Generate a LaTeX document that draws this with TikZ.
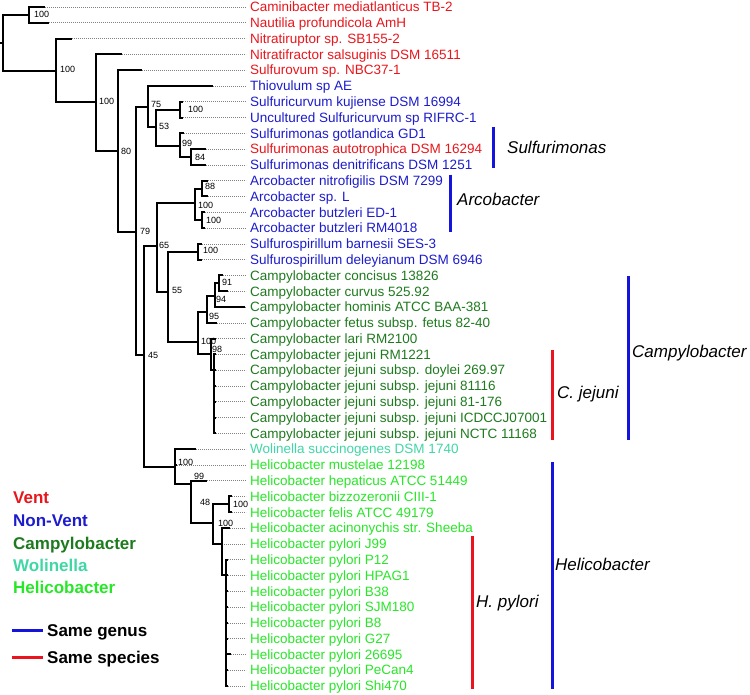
\documentclass[tikz,border=0pt]{standalone}
\usepackage{fontspec}
\setmainfont{Liberation Sans}
\definecolor{vent}{RGB}{232,22,28}
\definecolor{nonvent}{RGB}{28,28,204}
\definecolor{campy}{RGB}{30,122,30}
\definecolor{woli}{RGB}{64,214,166}
\definecolor{heli}{RGB}{40,230,40}
\definecolor{barblue}{RGB}{20,20,220}
\definecolor{barred}{RGB}{235,20,30}
\begin{document}
\begin{tikzpicture}[x=1pt,y=-1pt,
 br/.style={line width=2pt},
 dots/.style={gray, line width=0.6pt, dash pattern=on 0.7pt off 1.3pt},
 leaf/.style={anchor=base west, inner sep=0pt, font=\fontsize{13.5}{15}\selectfont},
 bs/.style={anchor=west, inner sep=0pt, font=\fontsize{9}{10}\selectfont},
 clade/.style={anchor=base west, inner sep=0pt, font=\fontsize{17}{19}\selectfont\itshape},
 leg/.style={anchor=base west, inner sep=0pt, font=\fontsize{17}{19}\selectfont\bfseries},
 bar/.style={line width=3pt}]
\useasboundingbox (0,0) rectangle (750,695);
% ---------- leaf labels ----------
\foreach \i/\t/\c in {
 1/Caminibacter mediatlanticus TB-2/vent,
 2/Nautilia profundicola AmH/vent,
 3/Nitratiruptor sp. SB155-2/vent,
 4/Nitratifractor salsuginis DSM 16511/vent,
 5/Sulfurovum sp. NBC37-1/vent,
 6/Thiovulum sp AE/nonvent,
 7/Sulfuricurvum kujiense DSM 16994/nonvent,
 8/Uncultured Sulfuricurvum sp RIFRC-1/nonvent,
 9/Sulfurimonas gotlandica GD1/nonvent,
 10/Sulfurimonas autotrophica DSM 16294/vent,
 11/Sulfurimonas denitrificans DSM 1251/nonvent,
 12/Arcobacter nitrofigilis DSM 7299/nonvent,
 13/Arcobacter sp. L/nonvent,
 14/Arcobacter butzleri ED-1/nonvent,
 15/Arcobacter butzleri RM4018/nonvent,
 16/Sulfurospirillum barnesii SES-3/nonvent,
 17/Sulfurospirillum deleyianum DSM 6946/nonvent,
 18/Campylobacter concisus 13826/campy,
 19/Campylobacter curvus 525.92/campy,
 20/Campylobacter hominis ATCC BAA-381/campy,
 21/Campylobacter fetus subsp. fetus 82-40/campy,
 22/Campylobacter lari RM2100/campy,
 23/Campylobacter jejuni RM1221/campy,
 24/Campylobacter jejuni subsp. doylei 269.97/campy,
 25/Campylobacter jejuni subsp. jejuni 81116/campy,
 26/Campylobacter jejuni subsp. jejuni 81-176/campy,
 27/Campylobacter jejuni subsp. jejuni ICDCCJ07001/campy,
 28/Campylobacter jejuni subsp. jejuni NCTC 11168/campy,
 29/Wolinella succinogenes DSM 1740/woli,
 30/Helicobacter mustelae 12198/heli,
 31/Helicobacter hepaticus ATCC 51449/heli,
 32/Helicobacter bizzozeronii CIII-1/heli,
 33/Helicobacter felis ATCC 49179/heli,
 34/Helicobacter acinonychis str. Sheeba/heli,
 35/Helicobacter pylori J99/heli,
 36/Helicobacter pylori P12/heli,
 37/Helicobacter pylori HPAG1/heli,
 38/Helicobacter pylori B38/heli,
 39/Helicobacter pylori SJM180/heli,
 40/Helicobacter pylori B8/heli,
 41/Helicobacter pylori G27/heli,
 42/Helicobacter pylori 26695/heli,
 43/Helicobacter pylori PeCan4/heli,
 44/Helicobacter pylori Shi470/heli}{
 \pgfmathsetmacro\yy{7+(\i-1)*15.79}
 \node[leaf,text=\c] (t\i) at (250,\yy+4.8) {\t};
 \coordinate (d\i) at (246,\yy);
}
% ---------- tips ----------
\foreach \i/\x in {1/45,2/49,3/72,4/122,5/142,6/213,7/183,8/183,9/184,10/206,11/206,
 12/208,13/208,14/205,15/205,16/202,17/202,18/223,19/228,20/245,21/217,22/216,
 23/216,24/216,25/216,26/216,27/216,28/216,29/196,30/177,31/207,32/232,33/232,
 34/230,35/222,36/228,37/228,38/228,39/228,40/228,41/228,42/231,43/228,44/228}{
 \pgfmathsetmacro\yy{7+(\i-1)*15.79}
 \coordinate (e\i) at (\x,\yy);
 \draw[dots] (e\i) -- (d\i);
}
% ---------- internal nodes ----------
\coordinate (R0) at (0,43);
\coordinate (R) at (3,43);
\coordinate (A1) at (29,15);
\coordinate (N100a) at (56,71);
\coordinate (N100b) at (96,102);
\coordinate (N80) at (118,151);
\coordinate (N79) at (136,232);
\coordinate (N75) at (148,107);
\coordinate (N53) at (156,127);
\coordinate (S100) at (180,109.6);
\coordinate (N99a) at (180,146);
\coordinate (N84) at (191,157);
\coordinate (N45) at (144,355);
\coordinate (N65) at (157,246);
\coordinate (A100) at (195,203);
\coordinate (N88) at (202,188.6);
\coordinate (A100b) at (202,220.2);
\coordinate (N55) at (168,292);
\coordinate (SP100) at (198,252);
\coordinate (C100) at (198,342);
\coordinate (N95) at (207,312);
\coordinate (N94) at (215,296);
\coordinate (N91) at (219,283.3);
\coordinate (N98) at (211,354);
\coordinate (NJ) at (214,370);
\coordinate (NWH) at (175,467);
\coordinate (N99b) at (191,484);
\coordinate (N48) at (213,523);
\coordinate (H100) at (229,504.4);
\coordinate (P100) at (222,544);
\coordinate (NP) at (226,575);
% ---------- branches ----------
\draw[br] (R0) -- (R);
\foreach \p/\c in {R/A1,R/N100a,A1/e1,A1/e2,N100a/e3,N100a/N100b,N100b/e4,N100b/N80,
 N80/e5,N80/N79,N79/N75,N79/N45,N75/e6,N75/N53,N53/S100,N53/N99a,S100/e7,S100/e8,
 N99a/e9,N99a/N84,N84/e10,N84/e11,N45/N65,N45/NWH,N65/A100,N65/N55,A100/N88,A100/A100b,
 N88/e12,N88/e13,A100b/e14,A100b/e15,N55/SP100,N55/C100,SP100/e16,SP100/e17,
 C100/N95,C100/N98,N95/N94,N95/e21,N94/N91,N94/e20,N91/e18,N91/e19,N98/e22,N98/NJ,
 NJ/e23,NJ/e24,NJ/e25,NJ/e26,NJ/e27,NJ/e28,NWH/e29,NWH/e30,NWH/N99b,N99b/e31,N99b/N48,
 N48/H100,N48/P100,H100/e32,H100/e33,P100/e34,P100/e35,P100/NP,
 NP/e36,NP/e37,NP/e38,NP/e39,NP/e40,NP/e41,NP/e42,NP/e43,NP/e44}{
 \draw[br] (\p) |- (\c);
}
% ---------- support values ----------
\foreach \x/\y/\v [count=\k] in {34/14/100,60/69/100,99/101/100,121/151/80,140/231/79,
 151/104/75,159/126/53,188/109/100,182/143/99,195/157/84,148/355/45,159/245/65,
 198/205/100,205/186/88,206/220/100,172/290/55,203/250/100,201/341/100,209/316/95,
 216/299/94,222/282/91,212/349/98,178/462/100,194/476/99,200/502/48,233/504/100,218/523/100}{
 \node[bs] (b\k) at (\x,\y) {\v};
}
% ---------- clade bars ----------
\coordinate (s1) at (493,127); \coordinate (s2) at (493,168);
\coordinate (a1) at (450,175); \coordinate (a2) at (450,232);
\coordinate (c1) at (628,276); \coordinate (c2) at (628,440);
\coordinate (j1) at (552,350); \coordinate (j2) at (552,440);
\coordinate (h1) at (552,462); \coordinate (h2) at (552,689);
\coordinate (p1) at (472,536); \coordinate (p2) at (472,689);
\draw[bar,barblue] (s1) -- (s2);
\draw[bar,barblue] (a1) -- (a2);
\draw[bar,barblue] (c1) -- (c2);
\draw[bar,barred] (j1) -- (j2);
\draw[bar,barblue] (h1) -- (h2);
\draw[bar,barred] (p1) -- (p2);
\node[clade] (lsul) at (507,154) {Sulfurimonas};
\node[clade] (larc) at (457,206) {Arcobacter};
\node[clade] (lcam) at (632,357) {Campylobacter};
\node[clade] (lcj) at (557,398) {C. jejuni};
\node[clade] (lhel) at (555,570) {Helicobacter};
\node[clade] (lhp) at (476,607) {H. pylori};
% ---------- legend ----------
\node[leg,text=vent] (gv) at (13,503) {Vent};
\node[leg,text=nonvent] (gn) at (13,526) {Non-Vent};
\node[leg,text=campy] (gc) at (13,549) {Campylobacter};
\node[leg,text=woli] (gw) at (13,571) {Wolinella};
\node[leg,text=heli] (gh) at (13,593) {Helicobacter};
\node[leg] (gg) at (47,636) {Same genus};
\node[leg] (gs) at (47,663) {Same species};
\coordinate (lg1) at (12,630); \coordinate (lg2) at (43,630);
\coordinate (ls1) at (12,657); \coordinate (ls2) at (43,657);
\draw[bar,barblue] (lg1) -- (lg2);
\draw[bar,barred] (ls1) -- (ls2);
\end{tikzpicture}
\end{document}
